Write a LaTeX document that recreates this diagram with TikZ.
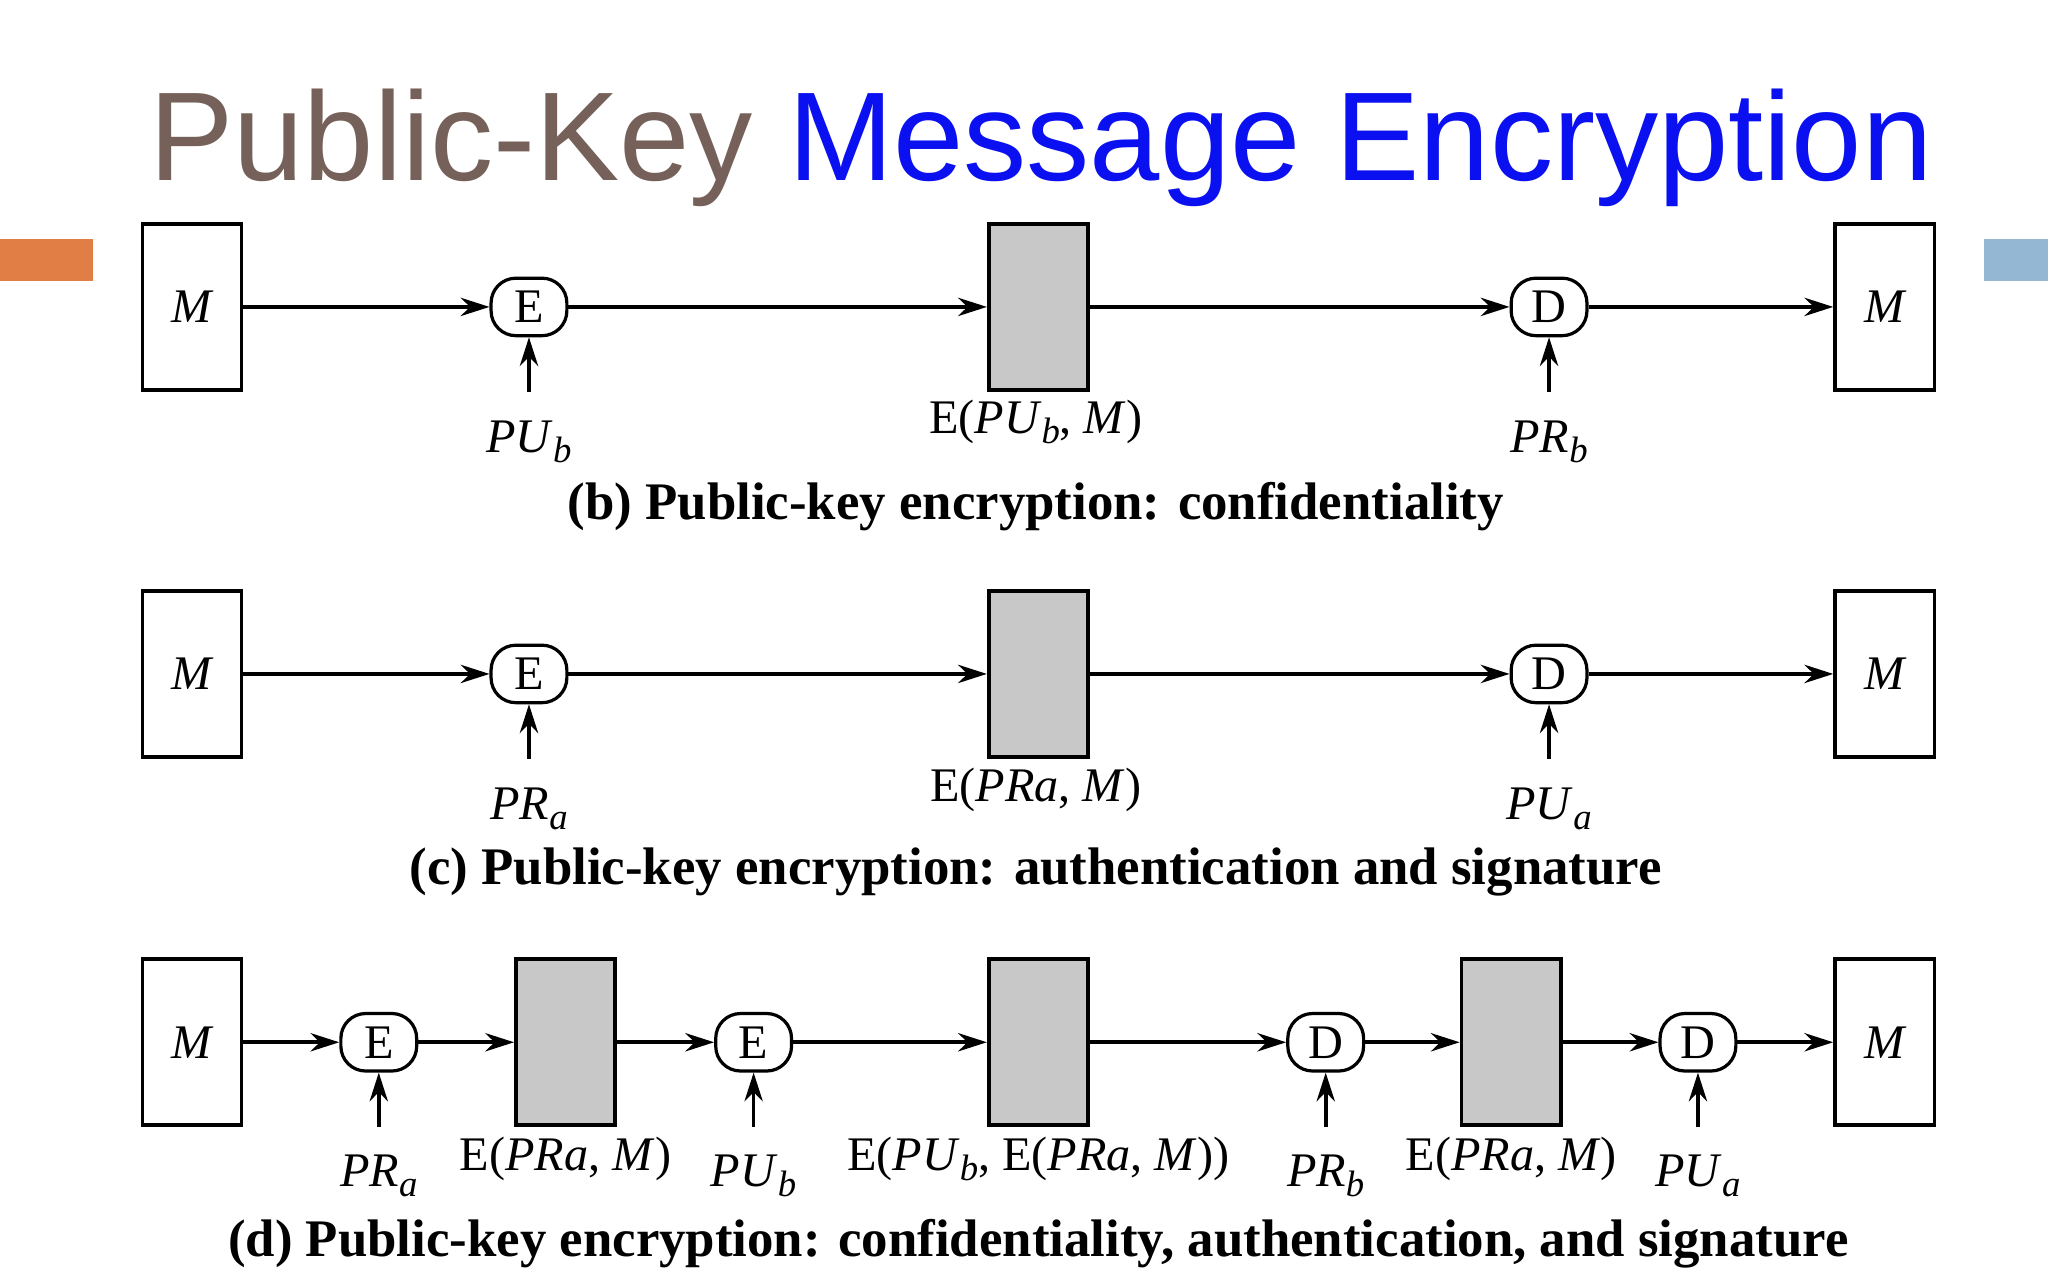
\documentclass[tikz,border=0pt]{standalone}
\usepackage{fontspec}
\setmainfont{Liberation Serif}
\newfontfamily\titlefont{Liberation Sans}
\usetikzlibrary{arrows.meta}
\definecolor{tbrown}{HTML}{76615A}
\definecolor{tblue}{HTML}{0A10F0}
\definecolor{obar}{HTML}{E07E45}
\definecolor{bbar}{HTML}{94B8D4}
\definecolor{gfill}{HTML}{C8C8C8}
\newcommand{\kk}[2]{\textit{#1}\raisebox{-0.45ex}{\footnotesize\textit{#2}}}
\begin{document}
\begin{tikzpicture}[x=0.01cm,y=-0.01cm,
 mbox/.style={draw,line width=0.8pt,minimum width=0.76cm,minimum height=1.27cm,inner sep=0pt,font=\fontsize{10.5}{12}\selectfont\itshape},
 gbox/.style={draw,line width=0.8pt,fill=gfill,minimum width=0.76cm,minimum height=1.27cm,inner sep=0pt},
 op/.style={draw,line width=0.7pt,rounded corners=0.19cm,minimum width=0.58cm,minimum height=0.44cm,inner sep=0pt,font=\fontsize{10.5}{12}\selectfont},
 lab/.style={font=\fontsize{10.5}{12}\selectfont},
 captext/.style={font=\fontsize{11.5}{12}\selectfont\bfseries},
 arr/.style={-{Stealth[length=0.22cm,width=0.14cm]},line width=0.8pt}]
\useasboundingbox (0,0) rectangle (1568,980);
\fill[obar] (0,183) rectangle (71,215);
\fill[bbar] (1519,183) rectangle (1568,215);
\node[anchor=base,font=\titlefont\fontsize{27.5}{30}\selectfont] (title) at (797,138) {\textcolor{tbrown}{Public-Key} \textcolor{tblue}{Message Encryption}};
% row b
\node[mbox] (m1) at (147,235) {M};
\node[op] (e1) at (405,235) {E};
\node[gbox] (g1) at (795,235) {};
\node[op] (d1) at (1186,235) {D};
\node[mbox] (n1) at (1443,235) {M};
\draw[arr] (m1) -- (e1); \draw[arr] (e1) -- (g1); \draw[arr] (g1) -- (d1); \draw[arr] (d1) -- (n1);
\coordinate (k1) at (405,300); \coordinate (k2) at (1186,300);
\draw[arr] (k1) -- (e1); \draw[arr] (k2) -- (d1);
\node[lab] (l1) at (405,338) {\kk{PU}{b}};
\node[lab] (l2) at (793,323) {E(\kk{PU}{b}, \textit{M})};
\node[lab] (l3) at (1186,338) {\kk{PR}{b}};
\node[captext] (c1) at (793,388) {(b) Public-key encryption: confidentiality};
% row c
\node[mbox] (m2) at (147,516) {M};
\node[op] (e2) at (405,516) {E};
\node[gbox] (g2) at (795,516) {};
\node[op] (d2) at (1186,516) {D};
\node[mbox] (n2) at (1443,516) {M};
\draw[arr] (m2) -- (e2); \draw[arr] (e2) -- (g2); \draw[arr] (g2) -- (d2); \draw[arr] (d2) -- (n2);
\coordinate (k3) at (405,581); \coordinate (k4) at (1186,581);
\draw[arr] (k3) -- (e2); \draw[arr] (k4) -- (d2);
\node[lab] (l4) at (405,619) {\kk{PR}{a}};
\node[lab] (l5) at (793,605) {E(\textit{PRa}, \textit{M})};
\node[lab] (l6) at (1186,619) {\kk{PU}{a}};
\node[captext] (c2) at (793,668) {(c) Public-key encryption: authentication and signature};
% row d
\node[mbox] (m3) at (147,798) {M};
\node[op] (e3) at (290,798) {E};
\node[gbox] (g3) at (433,798) {};
\node[op] (e4) at (577,798) {E};
\node[gbox] (g4) at (795,798) {};
\node[op] (d3) at (1015,798) {D};
\node[gbox] (g5) at (1157,798) {};
\node[op] (d4) at (1300,798) {D};
\node[mbox] (n3) at (1443,798) {M};
\draw[arr] (m3) -- (e3); \draw[arr] (e3) -- (g3); \draw[arr] (g3) -- (e4); \draw[arr] (e4) -- (g4);
\draw[arr] (g4) -- (d3); \draw[arr] (d3) -- (g5); \draw[arr] (g5) -- (d4); \draw[arr] (d4) -- (n3);
\coordinate (k5) at (290,863); \coordinate (k6) at (577,863); \coordinate (k7) at (1015,863); \coordinate (k8) at (1300,863);
\draw[arr] (k5) -- (e3); \draw[arr] (k6) -- (e4); \draw[arr] (k7) -- (d3); \draw[arr] (k8) -- (d4);
\node[lab] (l7) at (290,900) {\kk{PR}{a}};
\node[lab] (l8) at (433,887) {E(\textit{PRa}, \textit{M})};
\node[lab] (l9) at (577,900) {\kk{PU}{b}};
\node[lab] (l10) at (795,887) {E(\kk{PU}{b}, E(\textit{PRa}, \textit{M}))};
\node[lab] (l11) at (1015,900) {\kk{PR}{b}};
\node[lab] (l12) at (1157,887) {E(\textit{PRa}, \textit{M})};
\node[lab] (l13) at (1300,900) {\kk{PU}{a}};
\node[captext] (c3) at (795,952) {(d) Public-key encryption: confidentiality, authentication, and signature};
\end{tikzpicture}
\end{document}
